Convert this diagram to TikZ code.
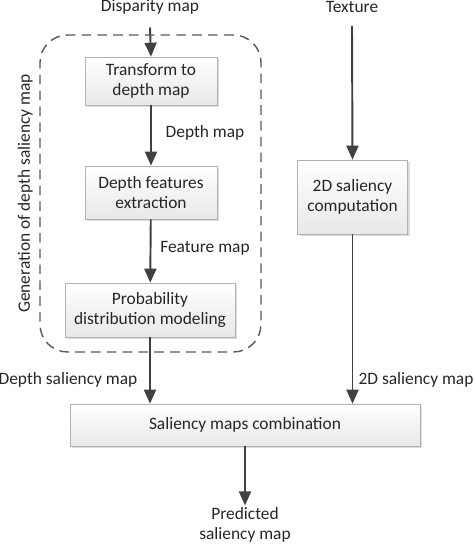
\documentclass[tikz,border=0pt]{standalone}
\usepackage{fontspec}
\setmainfont{Carlito}
\usetikzlibrary{arrows.meta,shadows}

\begin{document}
\begin{tikzpicture}[
    x=0.02cm, y=-0.02cm,
    font=\fontsize{9.9}{11.4}\selectfont,
    text=black!85,
    procbox/.style={
        draw=gray!60,
        top color=white,
        bottom color=gray!18,
        drop shadow={shadow xshift=1.2pt, shadow yshift=-1.2pt, fill=gray!45, opacity=0.6},
        align=center,
        inner sep=2pt
    },
    groupbox/.style={
        draw=black!65,
        dashed,
        dash pattern=on 5.5pt off 3.5pt,
        line width=0.8pt,
        rounded corners=5.5mm,
        minimum width=4.42cm,
        minimum height=6.34cm
    },
    label/.style={align=center, inner sep=1pt},
    flowarr/.style={
        black!75,
        line width=1.1pt,
        -{Triangle[length=2.8mm, width=2.4mm]}
    }
]
\useasboundingbox (0,0) rectangle (474,545);

% inputs
\node[label] (disp) at (150,7) {Disparity map};
\node[label] (tex) at (352,7) {Texture};

% enclosing dashed group
\node[groupbox] (grp) at (150.5,193.5) {};
\node[label, rotate=90, anchor=south] at ([xshift=-0.9mm]grp.west) {Generation of depth saliency map};

% depth branch
\node[procbox, minimum width=2.64cm, minimum height=0.96cm] (tr) at (151,81)
{Transform to\\depth map};

\node[procbox, minimum width=2.64cm, minimum height=1.06cm] (df) at (151,192.5)
{Depth features\\extraction};

\node[procbox, minimum width=3.4cm, minimum height=1.08cm] (pm) at (150,310)
{Probability\\distribution modeling};

% texture branch
\node[procbox, minimum width=2.2cm, minimum height=1.48cm] (sc) at (352.5,197)
{2D saliency\\computation};

% combination and output
\node[procbox, minimum width=7cm, minimum height=0.84cm] (comb) at (245,425)
{Saliency maps combination};

\node[label] (pred) at (245,525) {Predicted\\saliency map};

% arrows
\draw[flowarr] ([yshift=-2.2mm]disp.south) -- (tr.north);
\draw[flowarr] (tr) -- (df);
\draw[flowarr] (df) -- (pm);
\draw[flowarr] (pm.south) -- (pm.south |- comb.north);
\draw[flowarr] ([yshift=-2.2mm]tex.south) -- (sc.north);
\draw[flowarr] (sc.south) -- (sc.south |- comb.north);
\draw[flowarr] (comb.south) -- (pred.north);

% arrow labels
\node[label] (dmap) at (205,133) {Depth map};
\node[label] (fmap) at (205,248) {Feature map};
\node[label] (dsal) at (68,380) {Depth saliency map};
\node[label] (sal2d) at (416,380) {2D saliency map};

\end{tikzpicture}
\end{document}
